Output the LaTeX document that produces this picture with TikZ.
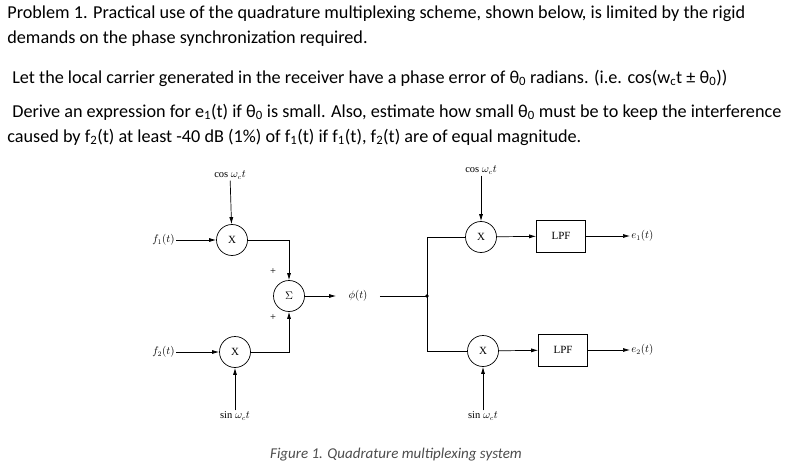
\documentclass[tikz,border=0pt]{standalone}
\usepackage{fontspec}
\setmainfont{Carlito}
\newfontfamily\dg{Liberation Serif}
\usetikzlibrary{arrows.meta}
\begin{document}
\begin{tikzpicture}[x=1pt,y=-1pt,
  txt/.style={anchor=west,inner sep=0pt,font=\fontsize{18.2}{20}\selectfont},
  mult/.style={circle,draw,minimum size=31pt,inner sep=0pt,font=\dg\fontsize{11}{12}\selectfont},
  lpf/.style={draw,minimum width=49pt,minimum height=32pt,inner sep=0pt,font=\dg\fontsize{11}{12}\selectfont},
  lab/.style={inner sep=1pt,font=\dg\fontsize{10.5}{12}\selectfont},
  arr/.style={-{Latex[length=7pt,width=4pt]}},
  line width=0.7pt]
\useasboundingbox (0,0) rectangle (802,470);
\node[txt] (l1) at (7,14) {Problem 1. Practical use of the quadrature multiplexing scheme, shown below, is limited by the rigid};
\node[txt] (l2) at (7,39) {demands on the phase synchronization required.};
\node[txt] (l3) at (12,78) {Let the local carrier generated in the receiver have a phase error of θ\textsubscript{0} radians. (i.e. cos(w\textsubscript{c}t ± θ\textsubscript{0}))};
\node[txt] (l4) at (12,112) {Derive an expression for e\textsubscript{1}(t) if θ\textsubscript{0} is small. Also, estimate how small θ\textsubscript{0} must be to keep the interference};
\node[txt] (l5) at (7,137) {caused by f\textsubscript{2}(t) at least -40 dB (1\%) of f\textsubscript{1}(t) if f\textsubscript{1}(t), f\textsubscript{2}(t) are of equal magnitude.};
% left
\node[mult] (x1) at (232,240) {X};
\node[mult] (x2) at (235,352) {X};
\node[mult] (s) at (289,296) {$\Sigma$};
\node[lab] (c1) at (230,175) {cos $\omega_c t$};
\node[lab] (s1) at (235,416) {sin $\omega_c t$};
\node[lab,anchor=east] (f1) at (176,240) {$f_1(t)$};
\node[lab,anchor=east] (f2) at (176,352) {$f_2(t)$};
\node[lab,inner xsep=12pt] (phi) at (358,296) {$\phi(t)$};
\node[lab] (p1) at (273,272) {+};
\node[lab] (p2) at (273,318) {+};
\draw[arr] (c1) -- (x1);
\draw[arr] (s1) -- (x2);
\draw[arr] (f1) -- (x1);
\draw[arr] (f2) -- (x2);
\draw[arr] (x1) -| (s);
\draw[arr] (x2) -| (s);
\draw[arr] (s) -- (phi);
% right
\coordinate (j) at (427,296);
\node[mult] (x3) at (481,237) {X};
\node[mult] (x4) at (483,351) {X};
\node[lpf] (lp1) at (561,236) {LPF};
\node[lpf] (lp2) at (563,350) {LPF};
\node[lab] (c2) at (481,170) {cos $\omega_c t$};
\node[lab] (s2) at (483,416) {sin $\omega_c t$};
\node[lab,anchor=west] (e1) at (630,236) {$e_1(t)$};
\node[lab,anchor=west] (e2) at (630,350) {$e_2(t)$};
\draw (phi) -- (j);
\fill (j) circle (1.8pt);
\draw (j) |- (x3);
\draw (j) |- (x4);
\draw[arr] (c2) -- (x3);
\draw[arr] (s2) -- (x4);
\draw[arr] (x3) -- (lp1);
\draw[arr] (x4) -- (lp2);
\draw[arr] (lp1) -- (e1);
\draw[arr] (lp2) -- (e2);
\node[inner sep=0pt,font=\itshape\fontsize{15}{17}\selectfont,text=black!70] (cap) at (396,455) {Figure 1. Quadrature multiplexing system};
\end{tikzpicture}
\end{document}
